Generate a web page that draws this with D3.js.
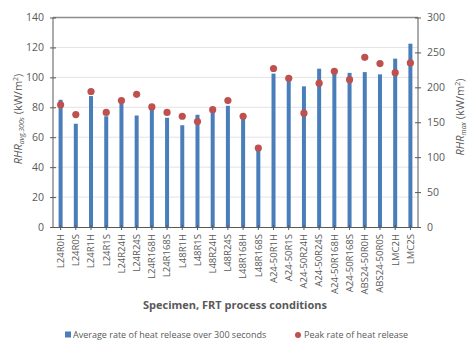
<html>
<head>
<script src="https://cdn.jsdelivr.net/npm/d3@7"></script>
<style>
  body { margin: 0; background: #fff; }
  text { font-family: "Open Sans", "Liberation Sans", sans-serif; fill: #595959; }
</style>
</head>
<body>
<script>
// specimens along x
var specimens = ["L24R0H", "L24R0S", "L24R1H", "L24R1S", "L24R24H", "L24R24S", "L24R168H", "L24R168S",
    "L48R1H", "L48R1S", "L48R24H", "L48R24S", "L48R168H", "L48R168S",
    "A24-50R1H", "A24-50R1S", "A24-50R24H", "A24-50R24S", "A24-50R168H", "A24-50R168S",
    "ABS24-50R0H", "ABS24-50R0S", "LMC2H", "LMC2S"];
// average RHR over 300 s (left axis)
var avgRhr = [85, 69, 87.5, 74, 85, 74.5, 79.5, 73, 68, 75, 77, 81, 72.5, 51,
    102.5, 98.5, 94, 105.8, 104, 103, 103.5, 102, 112.5, 122.5];
// peak RHR (right axis)
var peakRhr = [175, 161, 194, 164, 181, 190, 172, 164, 158.6, 151, 168, 181, 158.6, 113,
    227, 213, 163, 206, 223, 211, 243, 234, 221, 235];
var leftTicks = [0, 20, 40, 60, 80, 100, 120, 140];
var rightTicks = [0, 50, 100, 150, 200, 250, 300];

var width = 474, height = 353;
var margin = {top: 17.5, right: 56, bottom: 126, left: 53};
var innerW = width - margin.left - margin.right,
    innerH = height - margin.top - margin.bottom;

var svg = d3.select("body").append("svg").attr("width", width).attr("height", height);
var g = svg.append("g").attr("transform", "translate(" + margin.left + "," + margin.top + ")");

var x = d3.scaleBand().domain(specimens).range([0, innerW]);
var yL = d3.scaleLinear().domain([0, 140]).range([innerH, 0]);
var yR = d3.scaleLinear().domain([0, 300]).range([innerH, 0]);

// gridlines
g.selectAll("line.grid").data(leftTicks.slice(1, -1)).enter().append("line")
    .attr("x1", 0).attr("x2", innerW)
    .attr("y1", function(d) { return yL(d); }).attr("y2", function(d) { return yL(d); })
    .attr("stroke", "#e3e3e3").attr("stroke-width", 1);

// top border
g.append("line").attr("x1", 0).attr("x2", innerW).attr("y1", 0).attr("y2", 0)
    .attr("stroke", "#8c8c8c").attr("stroke-width", 1.5);

// bars
var barW = 4;
g.selectAll("rect.bar").data(avgRhr).enter().append("rect")
    .attr("x", function(d, i) { return x(specimens[i]) + x.bandwidth() / 2 - barW / 2; })
    .attr("y", function(d) { return yL(d); })
    .attr("width", barW)
    .attr("height", function(d) { return innerH - yL(d); })
    .attr("fill", "#4a7ebb");

// left axis
var axL = g.append("g").call(d3.axisLeft(yL).tickValues(leftTicks).tickSize(3).tickPadding(6));
axL.selectAll(".tick line").attr("x2", 3).attr("x1", -3).attr("stroke", "#595959");
axL.select(".domain").attr("stroke", "#595959").attr("d", "M0," + innerH + "V0");
axL.selectAll("text").style("font-size", "10.5px").attr("fill", "#595959");

// right axis
var axR = g.append("g").attr("transform", "translate(" + innerW + ",0)")
    .call(d3.axisRight(yR).tickValues(rightTicks).tickSize(3).tickPadding(6));
axR.selectAll(".tick line").attr("x1", -3).attr("x2", 3).attr("stroke", "#595959");
axR.select(".domain").attr("stroke", "#595959").attr("d", "M0," + innerH + "V0");
axR.selectAll("text").style("font-size", "10.5px").attr("fill", "#595959");

// bottom axis
var axB = g.append("g").attr("transform", "translate(0," + innerH + ")")
    .call(d3.axisBottom(x).tickSize(3).tickSizeOuter(0).tickPadding(4));
axB.select(".domain").attr("stroke", "#595959");
axB.selectAll(".tick line").attr("y1", -2).attr("y2", 3).attr("stroke", "#595959");
axB.selectAll("text").style("font-size", "9.5px").attr("fill", "#595959")
    .attr("transform", "rotate(-90)")
    .attr("text-anchor", "end")
    .attr("x", -7).attr("y", 0).attr("dy", "0.35em");

// peak dots
g.selectAll("circle.peak").data(peakRhr).enter().append("circle")
    .attr("cx", function(d, i) { return x(specimens[i]) + x.bandwidth() / 2; })
    .attr("cy", function(d) { return yR(d); })
    .attr("r", 3.6)
    .attr("fill", "#c0504d");

// axis titles
svg.append("text").attr("x", 235).attr("y", 309).attr("text-anchor", "middle")
    .style("font-size", "11px").style("font-weight", "bold").attr("fill", "#404040")
    .text("Specimen, FRT process conditions");

var lt = svg.append("text").attr("transform", "translate(22,119) rotate(-90)")
    .attr("text-anchor", "middle").style("font-size", "11px").attr("fill", "#404040");
lt.append("tspan").style("font-style", "italic").text("RHR");
lt.append("tspan").style("font-size", "7px").style("font-style", "italic").attr("dy", 2).text("avg,300s");
lt.append("tspan").attr("dy", -2).text(" (kW/m");
lt.append("tspan").style("font-size", "7px").attr("dy", -4).text("2");
lt.append("tspan").attr("dy", 4).text(")");

var rt = svg.append("text").attr("transform", "translate(464,117) rotate(-90)")
    .attr("text-anchor", "middle").style("font-size", "11px").attr("fill", "#404040");
rt.append("tspan").style("font-style", "italic").text("RHR");
rt.append("tspan").style("font-size", "7px").style("font-style", "italic").attr("dy", 2).text("max");
rt.append("tspan").attr("dy", -2).text(" (kW/m");
rt.append("tspan").style("font-size", "7px").attr("dy", -4).text("2");
rt.append("tspan").attr("dy", 4).text(")");

// legend
var leg = svg.append("g").attr("transform", "translate(0,335)");
leg.append("rect").attr("x", 65).attr("y", -3.5).attr("width", 6).attr("height", 6).attr("fill", "#4a7ebb");
leg.append("text").attr("x", 73).attr("y", 0).attr("dy", "0.35em").style("font-size", "9px")
    .text("Average rate of heat release over 300 seconds");
leg.append("circle").attr("cx", 298).attr("cy", 0).attr("r", 3).attr("fill", "#c0504d");
leg.append("text").attr("x", 304).attr("y", 0).attr("dy", "0.35em").style("font-size", "9px")
    .text("Peak rate of heat release");
</script>
</body>
</html>
